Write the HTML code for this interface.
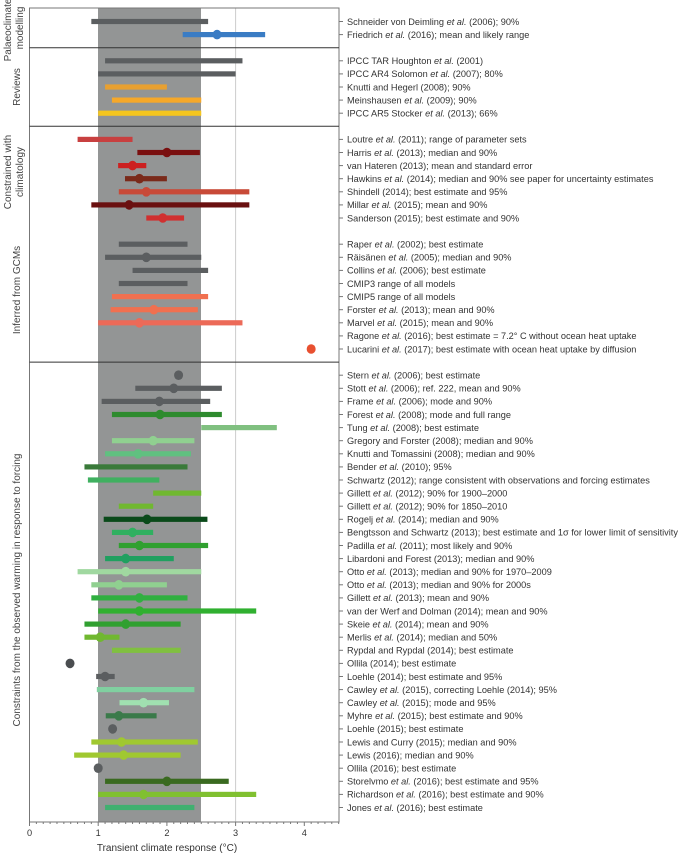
<!DOCTYPE html>
<html><head><meta charset="utf-8"><style>
body{margin:0;background:#fff;}
svg{display:block;font-family:"Liberation Sans",sans-serif;}
.lbl{font-size:9.2px;fill:#333;}
.sec{font-size:10px;fill:#444;}
</style></head><body>
<svg id="chart" width="685" height="855" viewBox="0 0 685 855" xmlns="http://www.w3.org/2000/svg">
<rect x="98" y="8" width="103" height="814" fill="#939595"/>
<line x1="235.6" y1="8" x2="235.6" y2="822" stroke="#ccc" stroke-width="1"/>
<g id="marks"></g>
<rect x="29.5" y="8" width="309.5" height="814" fill="none" stroke="#777" stroke-width="1"/>
<g stroke="#333" stroke-width="1">
<line x1="29.5" y1="47.7" x2="339" y2="47.7"/>
<line x1="29.5" y1="126.3" x2="339" y2="126.3"/>
<line x1="29.5" y1="362.1" x2="339" y2="362.1"/>
</g>
<g id="ticks"></g>
<g id="labels"></g>
<g class="sec">
<text transform="translate(11,30) rotate(-90)" text-anchor="middle">Palaeoclimate</text>
<text transform="translate(23,28) rotate(-90)" text-anchor="middle">modelling</text>
<text transform="translate(20,87) rotate(-90)" text-anchor="middle">Reviews</text>
<text transform="translate(11,172) rotate(-90)" text-anchor="middle">Constrained with</text>
<text transform="translate(23,172) rotate(-90)" text-anchor="middle">climatology</text>
<text transform="translate(20,290) rotate(-90)" text-anchor="middle">Inferred from GCMs</text>
<text transform="translate(20,590) rotate(-90)" text-anchor="middle">Constraints from the observed warming in response to forcing</text>
</g>
<text x="167" y="851" text-anchor="middle" class="lbl" style="font-size:10px">Transient climate response (°C)</text>
</svg>
<script>
const rowLabels = [
"Schneider von Deimling <i>et al.</i> (2006); 90%","Friedrich <i>et al.</i> (2016); mean and likely range","",
"IPCC TAR Houghton <i>et al.</i> (2001)","IPCC AR4 Solomon <i>et al.</i> (2007); 80%","Knutti and Hegerl (2008); 90%","Meinshausen <i>et al.</i> (2009); 90%","IPCC AR5 Stocker <i>et al.</i> (2013); 66%","",
"Loutre <i>et al.</i> (2011); range of parameter sets","Harris <i>et al.</i> (2013); median and 90%","van Hateren (2013); mean and standard error","Hawkins <i>et al.</i> (2014); median and 90% see paper for uncertainty estimates","Shindell (2014); best estimate and 95%","Millar <i>et al.</i> (2015); mean and 90%","Sanderson (2015); best estimate and 90%","",
"Raper <i>et al.</i> (2002); best estimate","Räisänen <i>et al.</i> (2005); median and 90%","Collins <i>et al.</i> (2006); best estimate","CMIP3 range of all models","CMIP5 range of all models","Forster <i>et al.</i> (2013); mean and 90%","Marvel <i>et al.</i> (2015); mean and 90%","Ragone <i>et al.</i> (2016); best estimate = 7.2° C without ocean heat uptake","Lucarini <i>et al.</i> (2017); best estimate with ocean heat uptake by diffusion","",
"Stern <i>et al.</i> (2006); best estimate","Stott <i>et al.</i> (2006); ref. 222, mean and 90%","Frame <i>et al.</i> (2006); mode and 90%","Forest <i>et al.</i> (2008); mode and full range","Tung <i>et al.</i> (2008); best estimate","Gregory and Forster (2008); median and 90%","Knutti and Tomassini (2008); median and 90%","Bender <i>et al.</i> (2010); 95%","Schwartz (2012); range consistent with observations and forcing estimates","Gillett <i>et al.</i> (2012); 90% for 1900–2000","Gillett <i>et al.</i> (2012); 90% for 1850–2010","Rogelj <i>et al.</i> (2014);  median and 90%","Bengtsson and Schwartz (2013); best estimate and 1σ for lower limit of sensitivity","Padilla <i>et al.</i> (2011); most likely and 90%","Libardoni and Forest (2013); median and 90%","Otto <i>et al.</i> (2013); median and 90% for 1970–2009","Otto <i>et al.</i> (2013); median and 90% for 2000s","Gillett <i>et al.</i> (2013); mean and 90%","van der Werf and Dolman (2014); mean and 90%","Skeie <i>et al.</i> (2014); mean and 90%","Merlis <i>et al.</i> (2014); median and 50%","Rypdal and Rypdal (2014); best estimate","Ollila (2014); best estimate","Loehle (2014); best estimate and 95%","Cawley <i>et al.</i> (2015), correcting Loehle (2014); 95%","Cawley <i>et al.</i> (2015); mode and 95%","Myhre <i>et al.</i> (2015); best estimate and 90%","Loehle (2015); best estimate","Lewis and Curry (2015); median and 90%","Lewis (2016); median and 90%","Ollila (2016); best estimate","Storelvmo <i>et al.</i> (2016); best estimate and 95%","Richardson <i>et al.</i> (2016); best estimate and 90%","Jones <i>et al.</i> (2016); best estimate"];
const lows =    [0.9,2.23,null, 1.1,1.0,1.1,1.2,1.0,null, 0.7,1.57,1.29,1.39,1.3,0.9,1.7,null, 1.3,1.1,1.5,1.3,1.2,1.18,1.0,null,null,null,
 null,1.54,1.05,1.2,2.5,1.2,1.1,0.8,0.85,1.8,1.3,1.08,1.2,1.3,1.1,0.7,0.9,0.9,1.0,0.8,0.8,1.2,null,0.97,0.98,1.31,1.11,null,0.9,0.65,null,1.1,1.0,1.1];
const highs =   [2.6,3.43,null, 3.1,3.0,2.0,2.5,2.5,null, 1.5,2.48,1.7,2.0,3.2,3.2,2.25,null, 2.3,2.5,2.6,2.3,2.6,2.45,3.1,null,null,null,
 null,2.8,2.63,2.8,3.6,2.4,2.35,2.3,1.89,2.5,1.8,2.59,1.8,2.6,2.1,2.5,2.0,2.3,3.3,2.2,1.31,2.2,null,1.24,2.4,2.03,1.85,null,2.45,2.2,null,2.9,3.3,2.4];
const centrals =[null,2.73,null, null,null,null,null,null,null, null,2.0,1.5,1.6,1.7,1.45,1.94,null, null,1.7,null,null,null,1.81,1.6,null,4.1,null,
 2.17,2.1,1.89,1.9,null,1.8,1.58,null,null,null,null,1.71,1.5,1.6,1.4,1.4,1.3,1.6,1.6,1.4,1.03,null,0.59,1.1,null,1.66,1.3,1.21,1.34,1.37,1.0,2.0,1.66,null];
const colors = ["#5b5e60","#3a7cc4","", "#5b5e60","#5b5e60","#e8a030","#f5a82a","#f5c61e","", "#c84040","#7a1010","#cc2020","#7a2a1a","#c84a38","#6a1010","#d03030","",
 "#5b5e60","#5b5e60","#5b5e60","#5b5e60","#f07050","#f07050","#ec6a58","","#e85030","",
 "#5b5e60","#5b5e60","#5b5e60","#2e8b2e","#80c080","#90d090","#60c080","#3a7a3a","#40b060","#70b830","#70b830","#0a4a1a","#30b060","#30a030","#20a060","#a0d8a0","#90d090","#30b040","#30b030","#30a030","#70b830","#80c040","#4a4d50","#5b5e60","#80d0a0","#a0e0b0","#3a7a4a","#5b5e60","#a0c830","#a0c830","#5b5e60","#3a6a20","#80c030","#40b070"];

const xScale = v => 29.5 + v * 68.7;
const yRow = i => 21.5 + i * 13.1;
const NS = "http://www.w3.org/2000/svg";
const marks = document.getElementById("marks");
const ticks = document.getElementById("ticks");
const labels = document.getElementById("labels");

for (let i = 0; i < rowLabels.length; i++) {
  const y = yRow(i);
  if (lows[i] !== null && highs[i] !== null) {
    const r = document.createElementNS(NS, "rect");
    r.setAttribute("x", xScale(lows[i]));
    r.setAttribute("y", y - 2.6);
    r.setAttribute("width", xScale(highs[i]) - xScale(lows[i]));
    r.setAttribute("height", 5.2);
    r.setAttribute("fill", colors[i]);
    
    
    marks.appendChild(r);
  }
  if (centrals[i] !== null) {
    const c = document.createElementNS(NS, "ellipse");
    c.setAttribute("cx", xScale(centrals[i]));
    c.setAttribute("cy", y);
    c.setAttribute("rx", 4.5);
    c.setAttribute("ry", 4.8);
    c.setAttribute("fill", colors[i]);
    
    
    marks.appendChild(c);
  }
  if (rowLabels[i]) {
    const t = document.createElementNS(NS, "line");
    t.setAttribute("x1", 339); t.setAttribute("x2", 343);
    t.setAttribute("y1", y); t.setAttribute("y2", y);
    t.setAttribute("stroke", "#777");
    
    
    ticks.appendChild(t);
    const fo = document.createElementNS(NS, "text");
    fo.setAttribute("x", 347);
    fo.setAttribute("y", y + 3.3);
    fo.setAttribute("class", "lbl");
    
    
    const parts = rowLabels[i].split(/(<i>.*?<\/i>)/);
    parts.forEach(p => {
      if (!p) return;
      const ts = document.createElementNS(NS, "tspan");
      if (p.startsWith("<i>")) { ts.setAttribute("font-style", "italic"); ts.textContent = p.replace(/<\/?i>/g, ""); }
      else ts.textContent = p;
      fo.appendChild(ts);
    });
    labels.appendChild(fo);
  }
}
const xTickVals = [0,1,2,3,4];
for (let v = 0; v <= 4.5001; v += 0.1) {
  const major = Math.abs(v - Math.round(v)) < 1e-6;
  const l = document.createElementNS(NS, "line");
  l.setAttribute("x1", xScale(v)); l.setAttribute("x2", xScale(v));
  l.setAttribute("y1", 822); l.setAttribute("y2", major ? 826 : 824);
  l.setAttribute("stroke", "#777");
  
  
  ticks.appendChild(l);
}
xTickVals.forEach(v => {
  const t = document.createElementNS(NS, "text");
  t.setAttribute("x", xScale(v)); t.setAttribute("y", 836);
  t.setAttribute("text-anchor", "middle");
  t.setAttribute("class", "lbl");
  
  
  t.textContent = v;
  labels.appendChild(t);
});
</script>
</body></html>
